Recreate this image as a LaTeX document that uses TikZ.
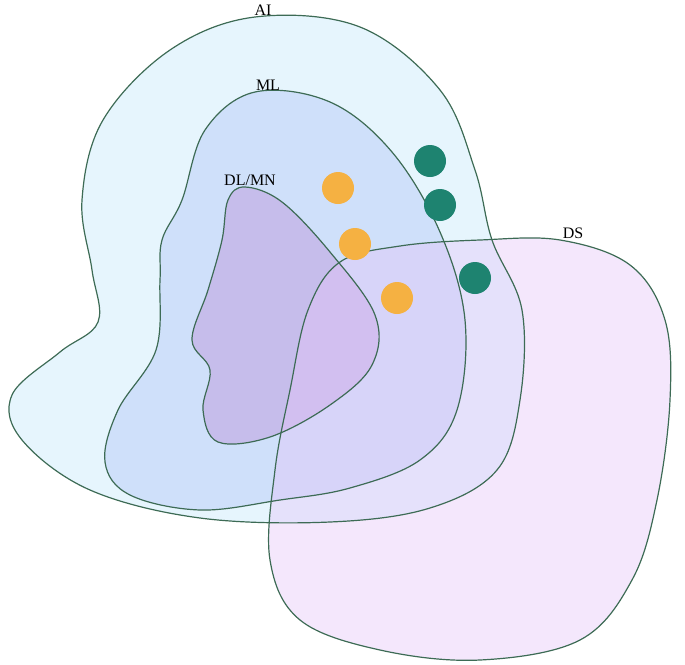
\documentclass[tikz,border=0pt]{standalone}
\usepackage{fontspec}
\setmainfont{Liberation Serif}
\begin{document}
\begin{tikzpicture}[x=0.75pt,y=-0.75pt,
  blob/.style={draw=edge,line width=0.9pt},
  lbl/.style={font=\fontsize{12}{14}\selectfont},
  odot/.style={circle,fill=dotor,minimum size=24pt,inner sep=0pt},
  gdot/.style={circle,fill=dotgr,minimum size=24pt,inner sep=0pt}]
\definecolor{edge}{HTML}{3D6B55}
\definecolor{aic}{HTML}{E6F5FD}
\definecolor{mlc}{HTML}{CFE0FA}
\definecolor{dlc}{HTML}{C6BDEB}
\definecolor{dsc}{HTML}{E4C4F8}
\definecolor{dotor}{HTML}{F5B142}
\definecolor{dotgr}{HTML}{1E8370}
\useasboundingbox (0,0) rectangle (685,664);
\def\aipath{plot[smooth cycle,tension=0.6] coordinates {(255,17) (360,27) (440,90) (475,170) (492,240) (522,310) (520,400) (497,470) (430,508) (330,522) (200,518) (90,490) (22,440) (12,395) (60,352) (98,322) (92,270) (82,200) (103,120) (170,50)}}
\def\mlpath{plot[smooth cycle,tension=0.6] coordinates {(255,92) (330,102) (392,152) (440,232) (465,320) (457,410) (420,460) (350,488) (280,500) (200,510) (130,495) (105,462) (118,410) (156,350) (160,280) (162,240) (182,200) (205,130)}}
\def\dlpath{plot[smooth cycle,tension=0.6] coordinates {(245,187) (282,202) (330,252) (375,315) (372,365) (330,405) (270,437) (218,442) (203,410) (210,370) (192,340) (208,290) (222,240) (228,200)}}
\def\dspath{plot[smooth cycle,tension=0.6] coordinates {(560,240) (630,265) (665,320) (670,400) (657,500) (632,580) (580,640) (480,660) (380,650) (300,620) (270,560) (275,470) (290,390) (308,310) (340,262) (400,246) (480,240)}}
\fill[aic] \aipath;
\fill[mlc] \mlpath;
\fill[dlc] \dlpath;
\fill[dsc,fill opacity=0.4] \dspath;
\draw[blob] \aipath;
\draw[blob] \mlpath;
\draw[blob] \dlpath;
\draw[blob] \dspath;
\node[odot] (o1) at (338,188) {};
\node[odot] (o2) at (355,244) {};
\node[odot] (o3) at (397,298) {};
\node[gdot] (g1) at (430,161) {};
\node[gdot] (g2) at (440,205) {};
\node[gdot] (g3) at (475,278) {};
\node[lbl] (ai) at (263,10) {AI};
\node[lbl] (ml) at (268,85) {ML};
\node[lbl] (dl) at (250,180) {DL/MN};
\node[lbl] (ds) at (573,233) {DS};
\end{tikzpicture}
\end{document}
